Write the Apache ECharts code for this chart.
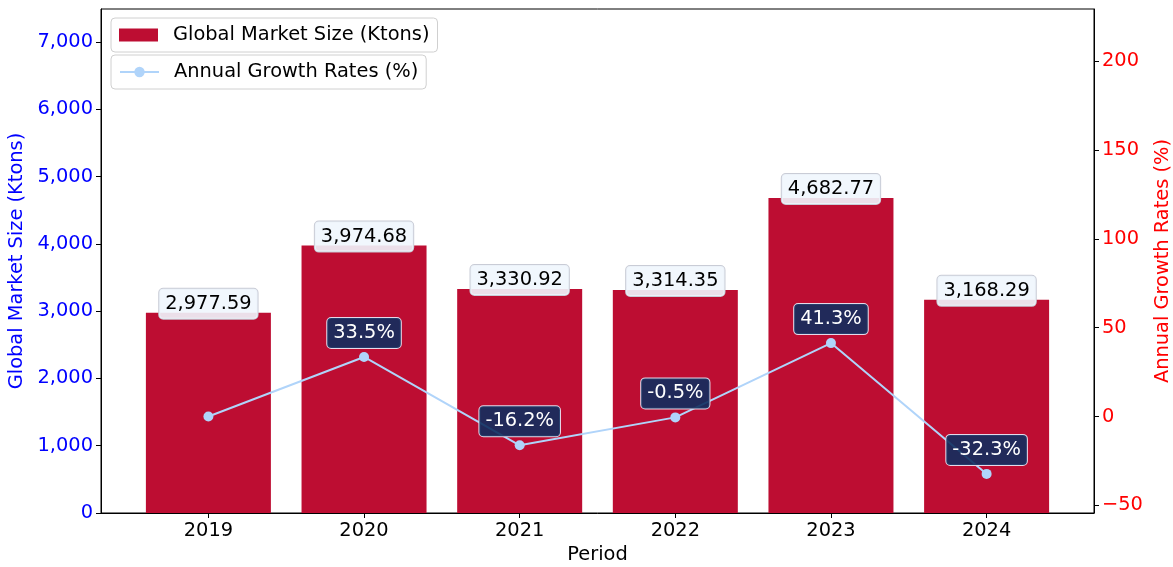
<!DOCTYPE html>
<html>
<head>
<meta charset="utf-8">
<script src="https://cdn.jsdelivr.net/npm/echarts@6/dist/echarts.min.js"></script>
<style>
  html, body { margin: 0; padding: 0; background: #fff; }
  #chart { width: 1173px; height: 567px; }
</style>
</head>
<body>
<div id="chart"></div>
<script>
const years = ['2019', '2020', '2021', '2022', '2023', '2024'];
const marketSize = [2977.59, 3974.68, 3330.92, 3314.35, 4682.77, 3168.29];
const growthRates = [0, 33.5, -16.2, -0.5, 41.3, -32.3];
const leftTicks = [0, 1000, 2000, 3000, 4000, 5000, 6000, 7000];
const rightTicks = [-50, 0, 50, 100, 150, 200];
const xTicks = [0, 1, 2, 3, 4, 5];

const FONT = 'DejaVu Sans';
const BAR_COLOR = '#bd0d32';
const LINE_COLOR = '#b0d4fa';

const chart = echarts.init(document.getElementById('chart'), null, { renderer: 'canvas' });

const tickStyle = { show: true, length: 5, lineStyle: { color: '#000', width: 1 } };
const spine = { show: true, onZero: false, lineStyle: { color: '#000', width: 1 } };

function legendBox(name, top) {
  return {
    data: [name],
    left: 111, top: top, orient: 'vertical',
    padding: [6, 8, 6, 8],
    itemWidth: 39, itemHeight: 13,
    borderColor: '#d0d0d0', borderWidth: 1, borderRadius: 4,
    backgroundColor: 'rgba(255,255,255,0.8)',
    selectedMode: false,
    textStyle: { fontSize: 19.4, color: '#000', lineHeight: 22, padding: [0, 0, 0, 10] },
  };
}

chart.setOption({
  animation: false,
  backgroundColor: '#fff',
  textStyle: { fontFamily: FONT },
  grid: { left: 101, right: 79, top: 9, bottom: 54, containLabel: false, outerBoundsMode: 'none',
    show: true, borderColor: '#000', borderWidth: 1, backgroundColor: 'transparent' },
  legend: [
    { ...legendBox('Global Market Size (Ktons)', 18), icon: 'rect' },
    legendBox('Annual Growth Rates (%)', 55),
  ],
  xAxis: {
    type: 'value',
    min: -0.69, max: 5.69,
    name: 'Period', nameLocation: 'middle', nameGap: 32,
    nameTextStyle: { fontSize: 19.4, color: '#000' },
    axisLine: spine,
    axisTick: { ...tickStyle, customValues: xTicks },
    axisLabel: { customValues: xTicks, fontSize: 19.4, color: '#000', margin: 8,
      formatter: v => years[Math.round(v)] },
    splitLine: { show: false },
  },
  yAxis: [
    {
      type: 'value', position: 'left',
      min: 0, max: 7492,
      name: 'Global Market Size (Ktons)', nameLocation: 'middle', nameGap: 63, nameRotate: 90,
      nameTextStyle: { fontSize: 19.4, color: '#0000ff' },
      axisLine: spine,
      axisTick: { ...tickStyle, customValues: leftTicks },
      axisLabel: { customValues: leftTicks, fontSize: 19.4, color: '#0000ff', margin: 8,
        formatter: v => v.toLocaleString('en-US') },
      splitLine: { show: false },
    },
    {
      type: 'value', position: 'right',
      min: -54.3, max: 229.3,
      name: 'Annual Growth Rates (%)', nameLocation: 'middle', nameGap: 55, nameRotate: 90,
      nameTextStyle: { fontSize: 19.4, color: '#ff0000' },
      axisLine: spine,
      axisTick: { ...tickStyle, customValues: rightTicks },
      axisLabel: { customValues: rightTicks, fontSize: 19.4, color: '#ff0000', margin: 8,
        formatter: v => (v < 0 ? '\u2212' + Math.abs(v) : String(v)) },
      splitLine: { show: false },
    },
  ],
  series: [
    {
      name: 'Global Market Size (Ktons)',
      type: 'bar',
      xAxisIndex: 0, yAxisIndex: 0,
      barWidth: 125,
      itemStyle: { color: BAR_COLOR },
      data: marketSize.map((v, i) => [i, v]),
      label: {
        show: true, position: 'top', distance: 0, offset: [0, 6],
        fontSize: 19.4, color: '#000', lineHeight: 20,
        backgroundColor: 'rgba(240,246,253,0.9)',
        borderColor: '#c9ccd6', borderWidth: 1, borderRadius: 4,
        padding: [5, 6],
        formatter: p => p.value[1].toLocaleString('en-US', { minimumFractionDigits: 2, maximumFractionDigits: 2 }),
      },
      z: 2,
    },
    {
      name: 'Annual Growth Rates (%)',
      type: 'line',
      xAxisIndex: 0, yAxisIndex: 1,
      symbol: 'circle', symbolSize: 10,
      lineStyle: { color: LINE_COLOR, width: 2 },
      itemStyle: { color: LINE_COLOR },
      data: growthRates.map((v, i) => ({ value: [i, v], label: { show: i > 0 } })),
      label: {
        show: true, position: 'top', distance: 4,
        fontSize: 19.4, color: '#fff', lineHeight: 20,
        backgroundColor: 'rgba(15,45,94,0.9)',
        borderColor: '#e6d8e8', borderWidth: 1, borderRadius: 4,
        padding: [5, 6],
        formatter: p => p.value[1].toFixed(1) + '%',
      },
      z: 3,
    },
  ],
});
</script>
</body>
</html>
